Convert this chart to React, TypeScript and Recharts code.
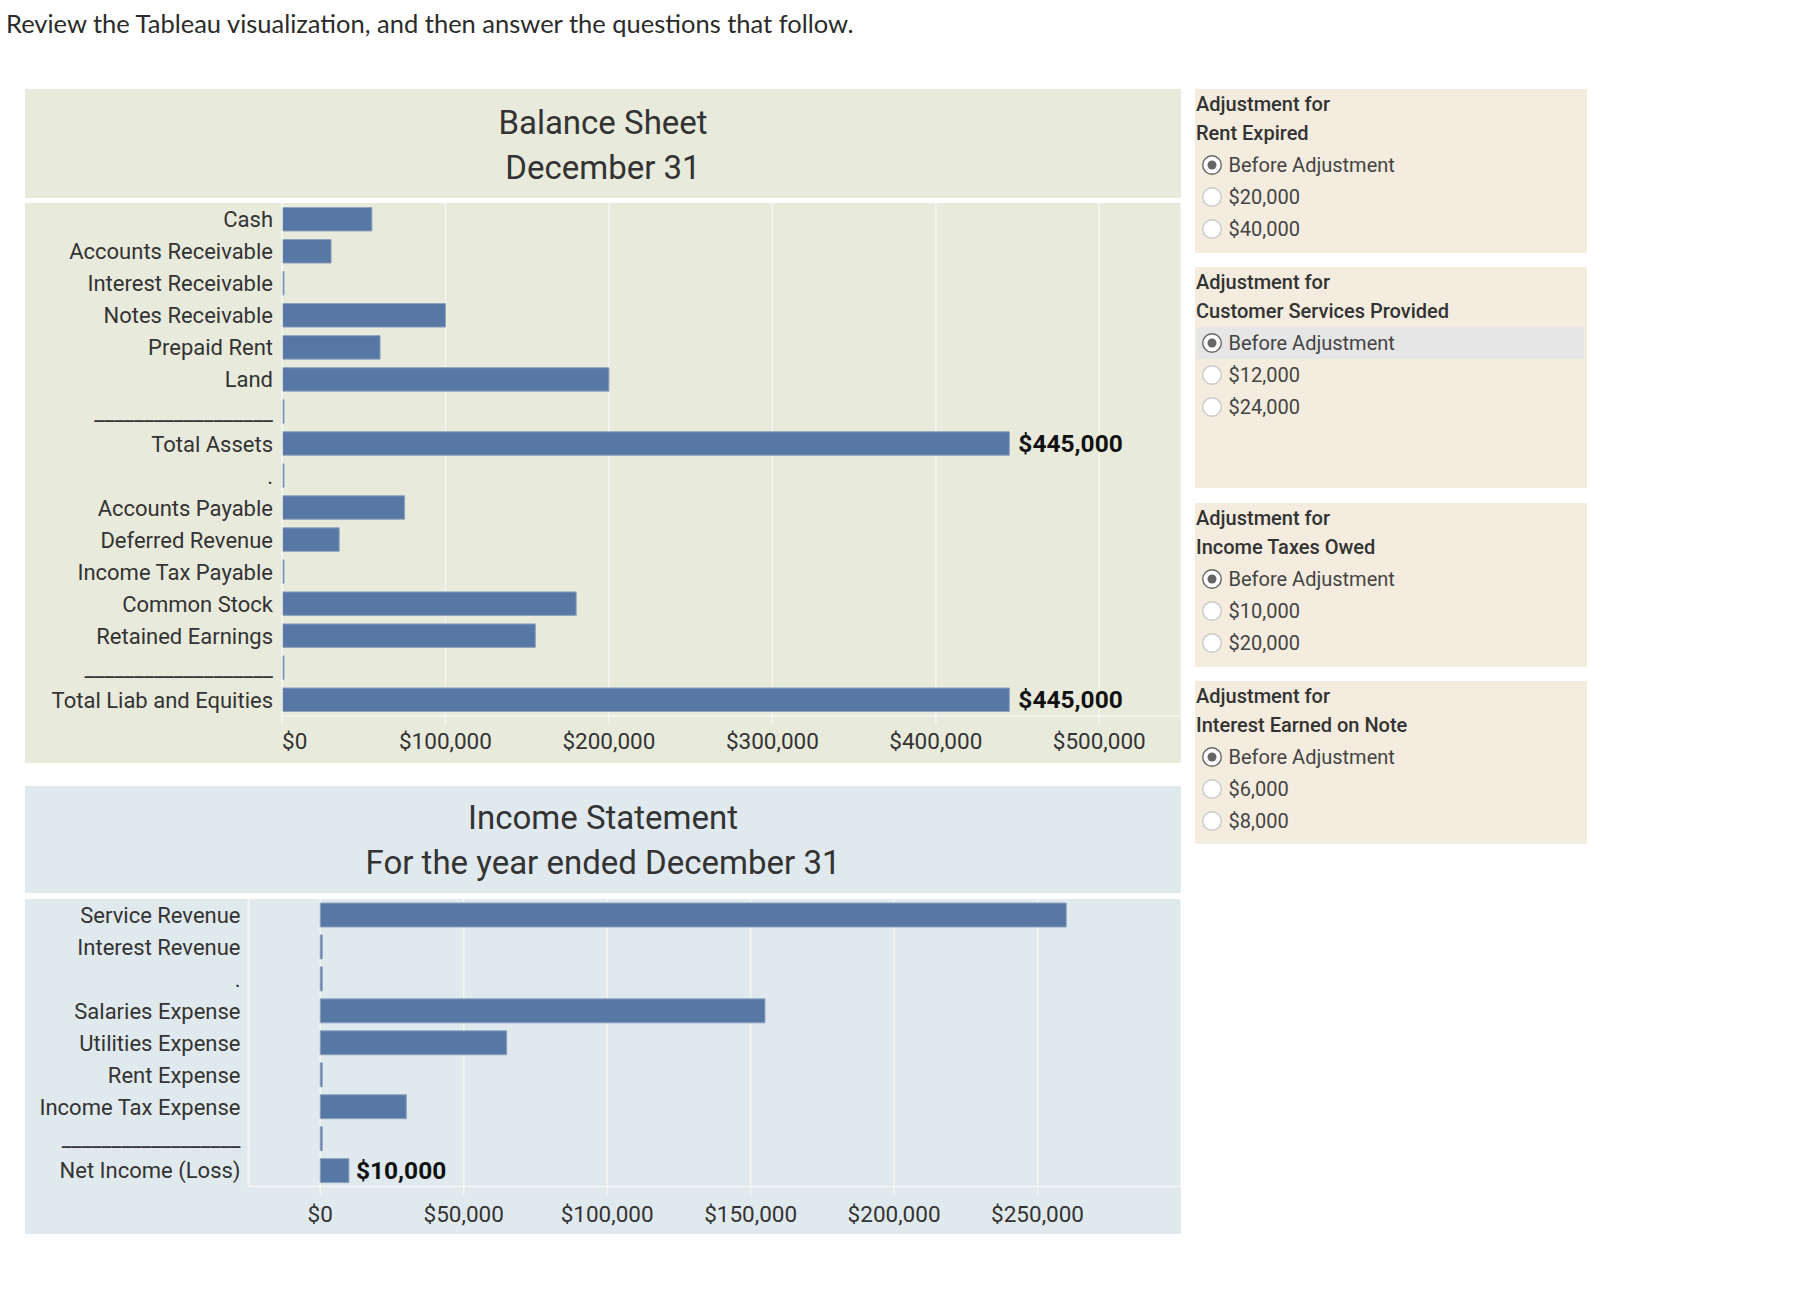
import React from 'react';
import { BarChart, Bar, XAxis, YAxis, CartesianGrid, LabelList } from 'recharts';

// Balance sheet rows (top to bottom)
const balanceCategories = [
    'Cash', 'Accounts Receivable', 'Interest Receivable', 'Notes Receivable', 'Prepaid Rent', 'Land',
    '__________________', 'Total Assets', '.', 'Accounts Payable', 'Deferred Revenue', 'Income Tax Payable',
    'Common Stock', 'Retained Earnings', '___________________', 'Total Liab and Equities',
];
const balanceValues = [55000, 30000, 0, 100000, 60000, 200000, 0, 445000, 0, 75000, 35000, 0, 180000, 155000, 0, 445000];
const balanceLabelled = ['Total Assets', 'Total Liab and Equities'];
const balanceTicks = [0, 100000, 200000, 300000, 400000, 500000];

// Income statement rows
const incomeCategories = [
    'Service Revenue', 'Interest Revenue', '.', 'Salaries Expense', 'Utilities Expense', 'Rent Expense',
    'Income Tax Expense', '__________________', 'Net Income (Loss)',
];
const incomeValues = [260000, 0, 0, 155000, 65000, 0, 30000, 0, 10000];
const incomeLabelled = ['Net Income (Loss)'];
const incomeTicks = [0, 50000, 100000, 150000, 200000, 250000];

// Parameter controls
const paramTitles = ['Rent Expired', 'Customer Services Provided', 'Income Taxes Owed', 'Interest Earned on Note'];
const paramOptions = [
    ['Before Adjustment', '$20,000', '$40,000'],
    ['Before Adjustment', '$12,000', '$24,000'],
    ['Before Adjustment', '$10,000', '$20,000'],
    ['Before Adjustment', '$6,000', '$8,000'],
];

const money = (v: number) => '$' + v.toLocaleString('en-US');

const BAR = '#5778a4';
const GRID = '#f6f6f1';
const TEXT = '#333333';
const FONT = 'Roboto, sans-serif';

const MoneyTick = ({ x, y, payload, index, firstStart }: any) => (
    <text
        x={x}
        y={y}
        dy="0.71em"
        textAnchor={firstStart && index === 0 ? 'start' : 'middle'}
        fill={TEXT}
        fontSize={22.5}
        fontFamily={FONT}
    >
        {money(payload.value)}
    </text>
);

const buildRows = (cats: string[], vals: number[], labelled: string[]) =>
    cats.map((name, i) => ({ name, value: vals[i], label: labelled.includes(name) ? money(vals[i]) : '' }));

const Header = ({ top, lines }: { top: number; lines: string[] }) => (
    <>
        {lines.map((t, i) => (
            <div
                key={t}
                style={{
                    position: 'absolute', left: 25, width: 1156, top: top + i * 45 - 20, height: 40,
                    lineHeight: '40px', textAlign: 'center', fontSize: 33, color: TEXT, fontFamily: FONT,
                }}
            >
                {t}
            </div>
        ))}
    </>
);

const Radio = ({ checked }: { checked: boolean }) => (
    <svg width={22} height={22} style={{ position: 'absolute', left: 5, top: 5 }}>
        <circle cx={11} cy={11} r={9.3} fill="#fff" stroke={checked ? '#666' : '#c9c9c9'} strokeWidth={1.4} />
        {checked && <circle cx={11} cy={11} r={4.5} fill="#666" />}
    </svg>
);

const ParamPanel = ({ top, height, title, options, highlight }: any) => (
    <div style={{ position: 'absolute', left: 1195, top, width: 392, height, background: '#f4ecde', fontFamily: FONT }}>
        <div style={{ position: 'absolute', left: 1, top: 15 - 14, lineHeight: '28px', fontSize: 20, fontWeight: 500, color: TEXT }}>Adjustment for</div>
        <div style={{ position: 'absolute', left: 1, top: 44 - 14, lineHeight: '28px', fontSize: 20, fontWeight: 500, color: TEXT, whiteSpace: 'nowrap' }}>{title}</div>
        {options.map((o: string, i: number) => (
            <div
                key={o}
                style={{
                    position: 'absolute', left: 1, width: 388, top: 76 + i * 31.9 - 16, height: 32,
                    background: highlight && i === 0 ? '#e6e6e6' : 'transparent',
                }}
            >
                <Radio checked={i === 0} />
                <div style={{ position: 'absolute', left: 32.5, top: 2, lineHeight: '28px', fontSize: 20, color: '#444' }}>{o}</div>
            </div>
        ))}
    </div>
);

const App = () => {
    const balanceRows = buildRows(balanceCategories, balanceValues, balanceLabelled);
    const incomeRows = buildRows(incomeCategories, incomeValues, incomeLabelled);

    return (
        <div style={{ position: 'relative', width: 1812, height: 1310, background: '#fff', fontFamily: FONT }}>
            <style>{'body{margin:0}'}</style>
            <div style={{ position: 'absolute', left: 6, top: 23 - 16, lineHeight: '32px', fontSize: 25.5, color: '#2b2b2b', fontFamily: 'Lato, sans-serif', whiteSpace: 'nowrap' }}>
                Review the Tableau visualization, and then answer the questions that follow.
            </div>

            {/* Balance sheet */}
            <div style={{ position: 'absolute', left: 25, top: 89, width: 1156, height: 108.5, background: '#e8eadc' }} />
            <div style={{ position: 'absolute', left: 25, top: 203, width: 1156, height: 560, background: '#e8eadc' }} />
            <Header top={122.5} lines={['Balance Sheet', 'December 31']} />
            <div style={{ position: 'absolute', left: 25, top: 203 }}>
                <BarChart width={1156} height={560} data={balanceRows} layout="vertical" margin={{ top: 0.5, right: 0, bottom: 0, left: 0 }}>
                    <CartesianGrid horizontal={false} stroke={GRID} strokeWidth={1.5} />
                    <XAxis
                        type="number"
                        domain={[0, 550000]}
                        ticks={balanceTicks}
                        height={47}
                        axisLine={{ stroke: GRID, strokeWidth: 1.5 }}
                        tickLine={{ stroke: GRID, strokeWidth: 1.5 }}
                        tickSize={8}
                        tickMargin={9}
                        tick={<MoneyTick firstStart />}
                    />
                    <YAxis
                        type="category"
                        dataKey="name"
                        width={257}
                        interval={0}
                        axisLine={{ stroke: GRID, strokeWidth: 1.5 }}
                        tickLine={false}
                        tickSize={0}
                        tickMargin={9}
                        tick={{ fill: TEXT, fontSize: 22, fontFamily: FONT }}
                    />
                    <Bar dataKey="value" fill={BAR} stroke="#8fa3bf" strokeWidth={1} barSize={23.5} minPointSize={2} isAnimationActive={false}>
                        <LabelList dataKey="label" position="right" offset={9} fill="#111" fontSize={24.5} fontWeight={700} fontFamily={FONT} />
                    </Bar>
                </BarChart>
            </div>

            {/* Income statement */}
            <div style={{ position: 'absolute', left: 25, top: 786, width: 1156, height: 107, background: '#e0e9ee' }} />
            <div style={{ position: 'absolute', left: 25, top: 899, width: 1156, height: 335, background: '#e0e9ee' }} />
            <Header top={818} lines={['Income Statement', 'For the year ended December 31']} />
            <div style={{ position: 'absolute', left: 25, top: 899 }}>
                <BarChart width={1156} height={335} data={incomeRows} layout="vertical" margin={{ top: 0, right: 0, bottom: 0, left: 0 }}>
                    <CartesianGrid horizontal={false} stroke={GRID} strokeWidth={1.5} />
                    <XAxis
                        type="number"
                        domain={[-25000, 300000]}
                        ticks={incomeTicks}
                        height={47.4}
                        axisLine={{ stroke: GRID, strokeWidth: 1.5 }}
                        tickLine={{ stroke: GRID, strokeWidth: 1.5 }}
                        tickSize={8}
                        tickMargin={11}
                        tick={<MoneyTick />}
                    />
                    <YAxis
                        type="category"
                        dataKey="name"
                        width={223.5}
                        interval={0}
                        axisLine={{ stroke: GRID, strokeWidth: 1.5 }}
                        tickLine={false}
                        tickSize={0}
                        tickMargin={8}
                        tick={{ fill: TEXT, fontSize: 22, fontFamily: FONT }}
                    />
                    <Bar dataKey="value" fill={BAR} stroke="#8fa3bf" strokeWidth={1} barSize={24} minPointSize={2} isAnimationActive={false}>
                        <LabelList dataKey="label" position="right" offset={7} fill="#111" fontSize={24.5} fontWeight={700} fontFamily={FONT} />
                    </Bar>
                </BarChart>
            </div>

            {/* Adjustment parameters */}
            <ParamPanel top={89} height={164} title={paramTitles[0]} options={paramOptions[0]} />
            <ParamPanel top={267} height={221} title={paramTitles[1]} options={paramOptions[1]} highlight />
            <ParamPanel top={503} height={164} title={paramTitles[2]} options={paramOptions[2]} />
            <ParamPanel top={681} height={163} title={paramTitles[3]} options={paramOptions[3]} />
        </div>
    );
};

export default App;
